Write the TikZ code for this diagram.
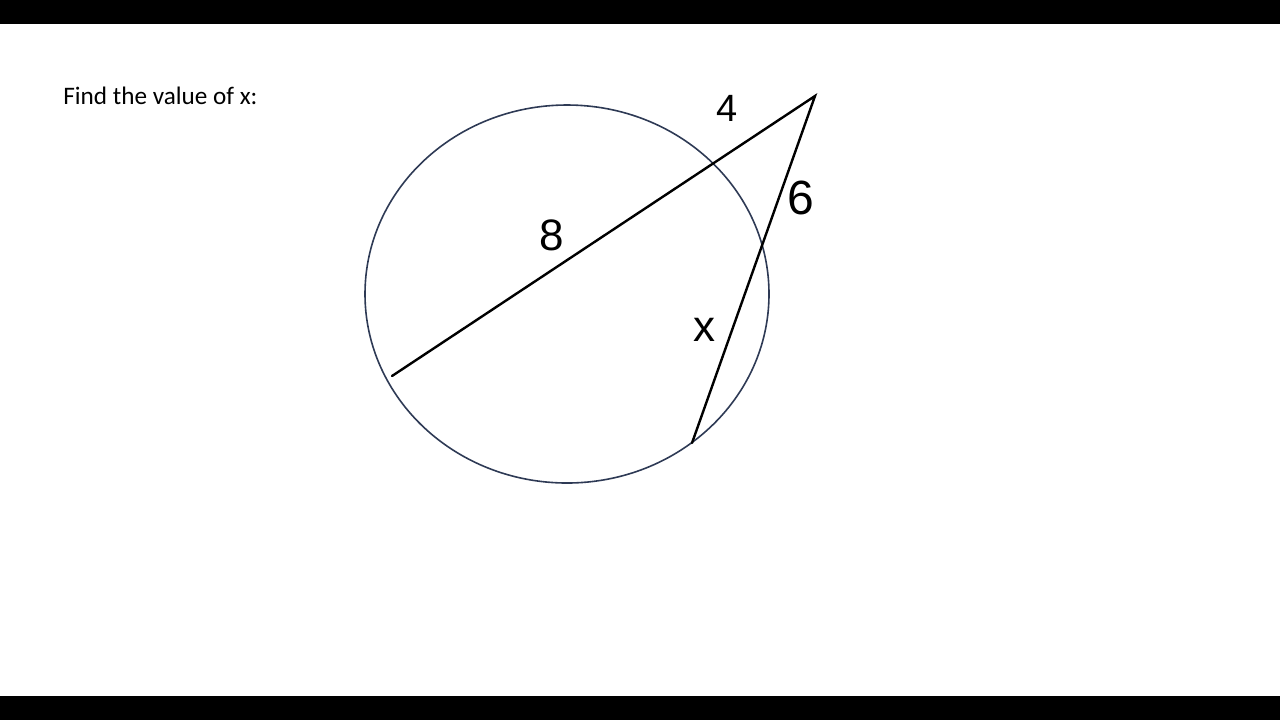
\documentclass[tikz,border=0pt]{standalone}
\usepackage{fontspec}
\setmainfont{Carlito}
\newfontfamily\handfont{Liberation Sans}
\definecolor{rimblue}{HTML}{2E3A55}
\tikzstyle{rim}=[draw=rimblue,line width=0.8pt]
\tikzstyle{secant}=[draw=black,line width=1.2pt,line cap=round]
\tikzstyle{handlabel}=[inner sep=0pt,font=\handfont]
\pgfmathsetmacro{\rx}{202}
\pgfmathsetmacro{\ry}{189}

\begin{document}
\begin{tikzpicture}[x=0.5pt,y=-0.5pt]
  \useasboundingbox (0,0) rectangle (1280,720);
  \fill[black] (0,0) rectangle (1280,24);
  \fill[black] (0,696) rectangle (1280,720);
  \node[anchor=west,inner sep=0pt,font=\fontsize{12.6}{15}\selectfont] (task) at (63,96) {Find the value of x:};
  % circle and the two secants from the outside point
  \coordinate (O) at (567,294);
  \draw[rim] (O) ellipse [x radius=\rx, y radius=\ry];
  \coordinate (P) at (815,96);
  \coordinate (A) at (392,376);
  \coordinate (C) at (692,443);
  \draw[secant] (A) -- (P) -- (C);
  \node[handlabel,font=\handfont\fontsize{19}{19}\selectfont] (four) at (727,108) {4};
  \node[handlabel,font=\handfont\fontsize{22}{22}\selectfont] (eight) at (552,235) {8};
  \node[handlabel,font=\handfont\fontsize{24}{24}\selectfont] (six) at (801,198) {6};
  \node[handlabel,font=\handfont\fontsize{22}{22}\selectfont] (ex) at (704,330) {x};
\end{tikzpicture}
\end{document}
